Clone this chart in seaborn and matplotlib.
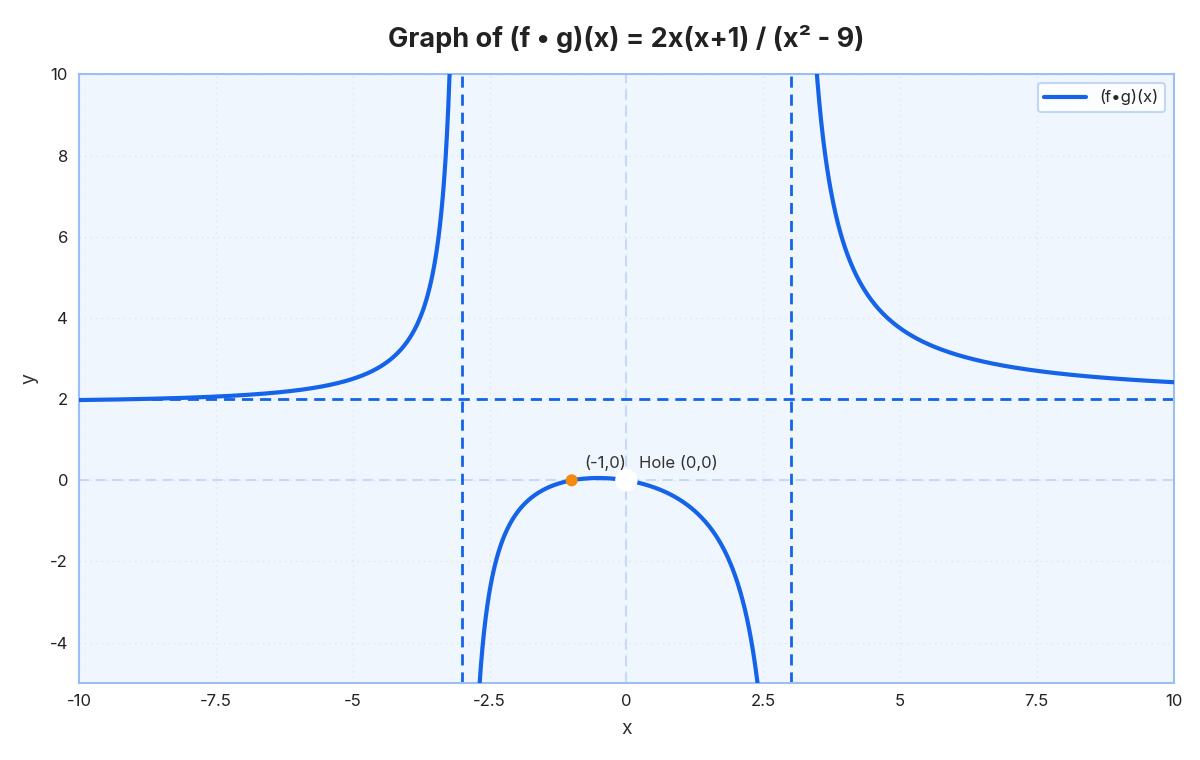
import numpy as np
import pandas as pd
import seaborn as sns
import matplotlib.pyplot as plt

# function from the title: (f*g)(x) = 2x(x+1) / (x^2 - 9)
x_range = [-10, 10]
y_range = [-5, 10]
vert_asymptotes = [-3, 3]
horiz_asymptote = 2
hole_pt = (0, 0)
zero_pt = (-1, 0)
x_ticks = [-10, -7.5, -5, -2.5, 0, 2.5, 5, 7.5, 10]
x_tick_labels = ["-10", "-7.5", "-5", "-2.5", "0", "2.5", "5", "7.5", "10"]
y_ticks = [-4, -2, 0, 2, 4, 6, 8, 10]

blue = "#1463e8"

def fg(x):
    return 2 * x * (x + 1) / (x**2 - 9)

# build branches between the vertical asymptotes
edges = [x_range[0]] + vert_asymptotes + [x_range[1]]
frames = []
for i in range(len(edges) - 1):
    xs = np.linspace(edges[i] + 1e-3, edges[i + 1] - 1e-3, 800)
    frames.append(pd.DataFrame({"x": xs, "y": fg(xs), "branch": i}))
df = pd.concat(frames, ignore_index=True)
df = df[(df.y > y_range[0] - 2) & (df.y < y_range[1] + 2)]

sns.set_style("whitegrid")
plt.rcParams["font.family"] = ["Inter", "DejaVu Sans"]
plt.rcParams["axes.unicode_minus"] = False

fig, ax = plt.subplots(figsize=(12, 7.6), dpi=100)
ax.set_facecolor("#f0f6fe")

# zero lines
ax.axhline(0, color="#c6daf8", lw=1.5, ls=(0, (5, 3)), zorder=1)
ax.axvline(0, color="#c6daf8", lw=1.5, ls=(0, (5, 3)), zorder=1)

# asymptotes
for xa in vert_asymptotes:
    ax.axvline(xa, color=blue, lw=2, ls=(0, (4, 2.5)), zorder=2)
ax.axhline(horiz_asymptote, color=blue, lw=2, ls=(0, (4, 2.5)), zorder=2)

for b, sub in df.groupby("branch"):
    sns.lineplot(data=sub, x="x", y="y", ax=ax, color=blue, lw=3, sort=False,
                 estimator=None, label="(f•g)(x)" if b == 0 else None, zorder=3)

ax.scatter([hole_pt[0]], [hole_pt[1]], s=260, color="white", zorder=5, edgecolors="none")
ax.scatter([zero_pt[0]], [zero_pt[1]], s=75, color="#f58a0b", zorder=5, edgecolors="none")
ax.annotate("(-1,0)", zero_pt, xytext=(9, 9), textcoords="offset points",
            fontsize=12, color="#333333")
ax.annotate("Hole (0,0)", hole_pt, xytext=(9, 9), textcoords="offset points",
            fontsize=12, color="#333333")

ax.set_xlim(x_range)
ax.set_ylim(y_range)
ax.set_xticks(x_ticks)
ax.set_xticklabels(x_tick_labels)
ax.set_yticks(y_ticks)
ax.tick_params(labelsize=12, colors="#222222", length=0, pad=8)
ax.grid(True, color="#dce6f5", ls=(0, (1, 3)), lw=1)
for s in ax.spines.values():
    s.set_color("#9bbff5")
    s.set_linewidth(1.5)

ax.set_xlabel("x", fontsize=14, color="#333333", labelpad=8)
ax.set_ylabel("y", fontsize=14, color="#333333", labelpad=8)
ax.set_title("Graph of (f • g)(x) = 2x(x+1) / (x² - 9)", fontsize=19.5,
             fontweight="bold", color="#222222", pad=20)

leg = ax.legend(loc="upper right", fontsize=12, frameon=True, fancybox=True,
                handlelength=2.5)
leg.get_frame().set_edgecolor("#b5cff7")
leg.get_frame().set_linewidth(1.5)
leg.get_frame().set_facecolor("white")

fig.subplots_adjust(left=0.066, right=0.978, top=0.902, bottom=0.101)
fig.savefig("out.png", dpi=100)
